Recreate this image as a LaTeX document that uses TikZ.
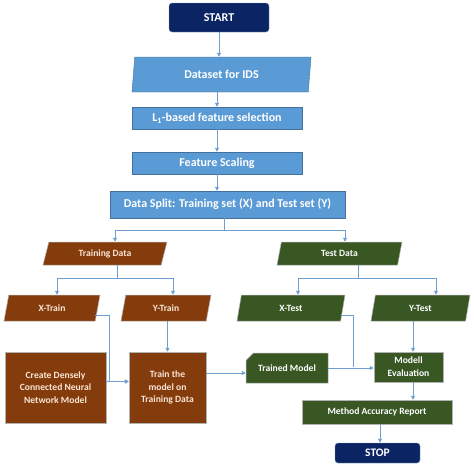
\documentclass[tikz,border=0pt]{standalone}
\usepackage{fontspec}
\setmainfont{Carlito}
\usetikzlibrary{shapes.geometric,shapes.misc,arrows.meta}
\definecolor{boxblue}{HTML}{5B9BD5}
\definecolor{edgeblue}{HTML}{41719C}
\definecolor{navy}{HTML}{0B2463}
\definecolor{rust}{HTML}{843C0C}
\definecolor{moss}{HTML}{385723}
\definecolor{peach}{HTML}{FBE5D6}
\definecolor{wire}{HTML}{6E9FD3}

\begin{document}
\begin{tikzpicture}[x=1pt, y=-1pt,
  box/.style={draw=edgeblue, fill=boxblue, text=white, inner sep=0pt,
    font=\bfseries\fontsize{12}{14}\selectfont},
  term/.style={box, draw=edgeblue!70, fill=navy, rounded corners=3pt},
  slantbig/.style={box, trapezium, trapezium left angle=72, trapezium right angle=108,
    trapezium stretches body},
  lowbox/.style={draw=gray!60, line width=0.5pt, inner sep=0pt, align=center,
    font=\bfseries\fontsize{9.6}{12.7}\selectfont},
  trainbox/.style={lowbox, fill=rust, text=peach},
  testbox/.style={lowbox, fill=moss, text=white},
  slant/.style={trapezium, trapezium left angle=55, trapezium right angle=125,
    trapezium stretches body},
  line/.style={draw=wire, line width=0.9pt},
  arr/.style={line, -{Triangle[length=4pt,width=4pt]}}
]
\useasboundingbox (0,0) rectangle (474,469);

% upper part
\node[term, minimum width=100pt, minimum height=29pt] (start) at (219,17.5) {START};
\node[slantbig, minimum width=179pt, minimum height=35pt] (dataset) at (221.5,74.5) {Dataset for IDS};
\node[box, minimum width=170pt, minimum height=22pt] (lasso) at (217,118) {L\textsubscript{1}-based feature selection};
\node[box, minimum width=170pt, minimum height=22pt] (scaling) at (217,163) {Feature Scaling};
\node[box, minimum width=235pt, minimum height=27pt] (split) at (227.5,204.5) {Data Split: Training set (X) and Test set (Y)};

% training and test data
\node[trainbox, slant, minimum width=124pt, minimum height=23pt] (traindata) at (105,253.5) {Training Data};
\node[testbox, slant, minimum width=125pt, minimum height=23pt] (testdata) at (339.5,253.5) {Test Data};
\node[trainbox, slant, minimum width=96pt, minimum height=26pt] (xtrain) at (52,308) {X-Train};
\node[trainbox, slant, minimum width=90pt, minimum height=26pt] (ytrain) at (166,308) {Y-Train};
\node[testbox, slant, minimum width=108pt, minimum height=26pt] (xtest) at (291,308) {X-Test};
\node[testbox, slant, minimum width=99pt, minimum height=26pt] (ytest) at (420.5,308) {Y-Test};

% model
\node[trainbox, minimum width=101pt, minimum height=71pt] (create) at (55.5,387.5) {Create Densely\\Connected Neural\\Network Model};
\node[trainbox, minimum width=77pt, minimum height=71pt] (fit) at (167.5,387.5) {Train the\\model on\\Training Data};
\node[testbox, chamfered rectangle, chamfered rectangle corners=north west,
  chamfered rectangle xsep=9pt, chamfered rectangle ysep=4pt,
  minimum width=82pt, minimum height=30pt] (model) at (287,368) {Trained Model};
\node[testbox, minimum width=69pt, minimum height=30pt] (evaluation) at (408.5,367) {Modell\\Evaluation};
\node[testbox, minimum width=150pt, minimum height=24pt] (report) at (377,412) {Method Accuracy Report};
\node[term, minimum width=85pt, minimum height=20pt, font=\bfseries\fontsize{11.5}{13}\selectfont] (stop) at (377.5,453) {STOP};

% connectors
\draw[arr] (start) -- (start |- dataset.north);
\draw[arr] (dataset.south -| lasso) -- (lasso);
\draw[arr] (lasso) -- (scaling);
\draw[arr] (scaling) -- (scaling |- split.north);
\draw[line] ([xshift=-3pt]split.south) -- ++(0,12) coordinate (fork);
\draw[arr] (fork) -| ([xshift=10pt]traindata.north);
\draw[arr] (fork) -| ([xshift=5.5pt]testdata.north);

\draw[line] ([xshift=12pt]traindata.south) -- ++(0,13) coordinate (trainfork);
\draw[arr] (trainfork) -| ([xshift=5pt]xtrain.north);
\draw[arr] (trainfork) -| ([xshift=7pt]ytrain.north);
\draw[line] ([xshift=18.5pt]testdata.south) -- ++(0,13) coordinate (testfork);
\draw[arr] (testfork) -| ([xshift=7pt]xtest.north);
\draw[arr] (testfork) -| ([xshift=15.5pt]ytest.north);

\draw[arr] ([yshift=6pt]xtrain.bottom right corner) -| ([xshift=-19pt,yshift=6pt]fit.west) -- ([yshift=6pt]fit.west);
\draw[arr] ([yshift=6pt]create.east) -- ([yshift=6pt]fit.west);
\draw[arr] (ytrain.south -| fit) -- (fit);
\draw[arr] ([yshift=14.5pt]fit.east) -- ([yshift=14.5pt]fit.east -| model.west);
\draw[arr] (model.east) -- (model.east -| evaluation.west);
\draw[line] ([yshift=6pt]xtest.bottom right corner) -| ([xshift=-20pt]evaluation.west);
\draw[arr] ([xshift=4.5pt]evaluation.north |- ytest.south) -- ([xshift=4.5pt]evaluation.north);
\draw[arr] ([xshift=4.5pt]evaluation.south) -- ([xshift=4.5pt]evaluation.south |- report.north);
\draw[arr] ([xshift=3pt]report.south) -- ([xshift=3pt]report.south |- stop.north);
\end{tikzpicture}
\end{document}
